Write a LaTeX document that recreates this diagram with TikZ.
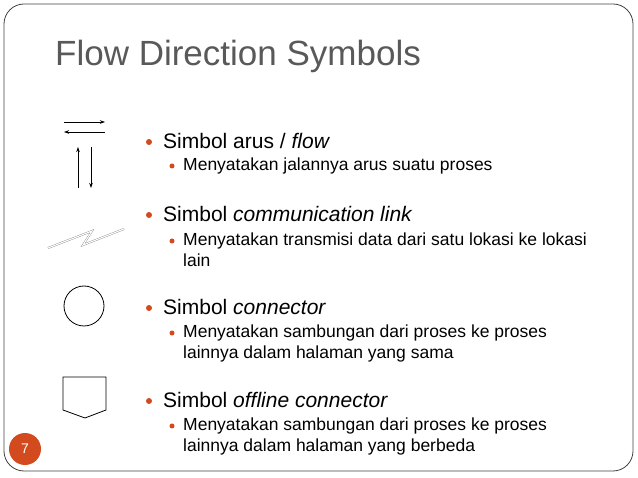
\documentclass[tikz,border=0pt]{standalone}
\usepackage{fontspec}
\setmainfont{Liberation Sans}
\usetikzlibrary{arrows.meta}
\definecolor{orn}{HTML}{D24A1E}
\definecolor{ttl}{HTML}{595959}
\begin{document}
\begin{tikzpicture}[x=1pt,y=-1pt,
  arr/.style={-{Stealth[length=5pt,width=3.5pt]},line width=0.8pt},
  lvl1/.style={anchor=base west,font=\fontsize{21}{24}\selectfont,inner sep=0},
  lvl2/.style={anchor=north west,font=\fontsize{17.5}{20.5}\selectfont,inner sep=0,align=left},
  b1/.style={circle,fill=orn,inner sep=0,minimum size=6pt},
  b2/.style={circle,fill=orn,inner sep=0,minimum size=5pt}]
\useasboundingbox (0,0) rectangle (638,478);
\draw[line width=0.8pt,black!75,rounded corners=20pt] (4,4) rectangle (633,471);
\node[anchor=base west,inner sep=0,text=ttl,font=\fontsize{35}{40}\selectfont] (title) at (55,66) {Flow Direction Symbols};
% arrows
\coordinate (h1a) at (64,122); \coordinate (h1b) at (105,122);
\coordinate (h2a) at (105,132); \coordinate (h2b) at (64,132);
\coordinate (v1a) at (78,188); \coordinate (v1b) at (78,147);
\coordinate (v2a) at (91,147); \coordinate (v2b) at (91,188);
\draw[arr] (h1a) -- (h1b);
\draw[arr] (h2a) -- (h2b);
\draw[arr] (v1a) -- (v1b);
\draw[arr] (v2a) -- (v2b);
% lightning
\draw[double=white,double distance=1.2pt,line width=0.3pt,black!55,line join=miter] (48,248) -- (92,231) -- (83,245) -- (124,229);
% connector
\node[draw,circle,minimum size=40pt,inner sep=0,line width=0.8pt] (conn) at (84,306) {};
% offline connector
\draw[line width=0.8pt] (63,377) -- (106,377) -- (106,410) -- (85,418) -- (63,410) -- cycle;
% page number
\node[circle,fill=orn,minimum size=32pt,inner sep=0,text=white,font=\fontsize{14}{16}\selectfont] (pg) at (25,449) {7};
% texts
\node[b1] (d1) at (149,142) {}; \node[lvl1] (t1) at (163,149) {Simbol arus / \textit{flow}};
\node[b2] (e1) at (172,166) {}; \node[lvl2] (s1) at (183,158) {Menyatakan jalannya arus suatu proses};
\node[b1] (d2) at (149,215) {}; \node[lvl1] (t2) at (163,222) {Simbol \textit{communication link}};
\node[b2] (e2) at (172,241) {}; \node[lvl2] (s2) at (183,233) {Menyatakan transmisi data dari satu lokasi ke lokasi\\lain};
\node[b1] (d3) at (149,308) {}; \node[lvl1] (t3) at (163,315) {Simbol \textit{connector}};
\node[b2] (e3) at (172,333) {}; \node[lvl2] (s3) at (183,325) {Menyatakan sambungan dari proses ke proses\\lainnya dalam halaman yang sama};
\node[b1] (d4) at (149,401) {}; \node[lvl1] (t4) at (163,408) {Simbol \textit{offline connector}};
\node[b2] (e4) at (172,426) {}; \node[lvl2] (s4) at (183,418) {Menyatakan sambungan dari proses ke proses\\lainnya dalam halaman yang berbeda};
\end{tikzpicture}
\end{document}
